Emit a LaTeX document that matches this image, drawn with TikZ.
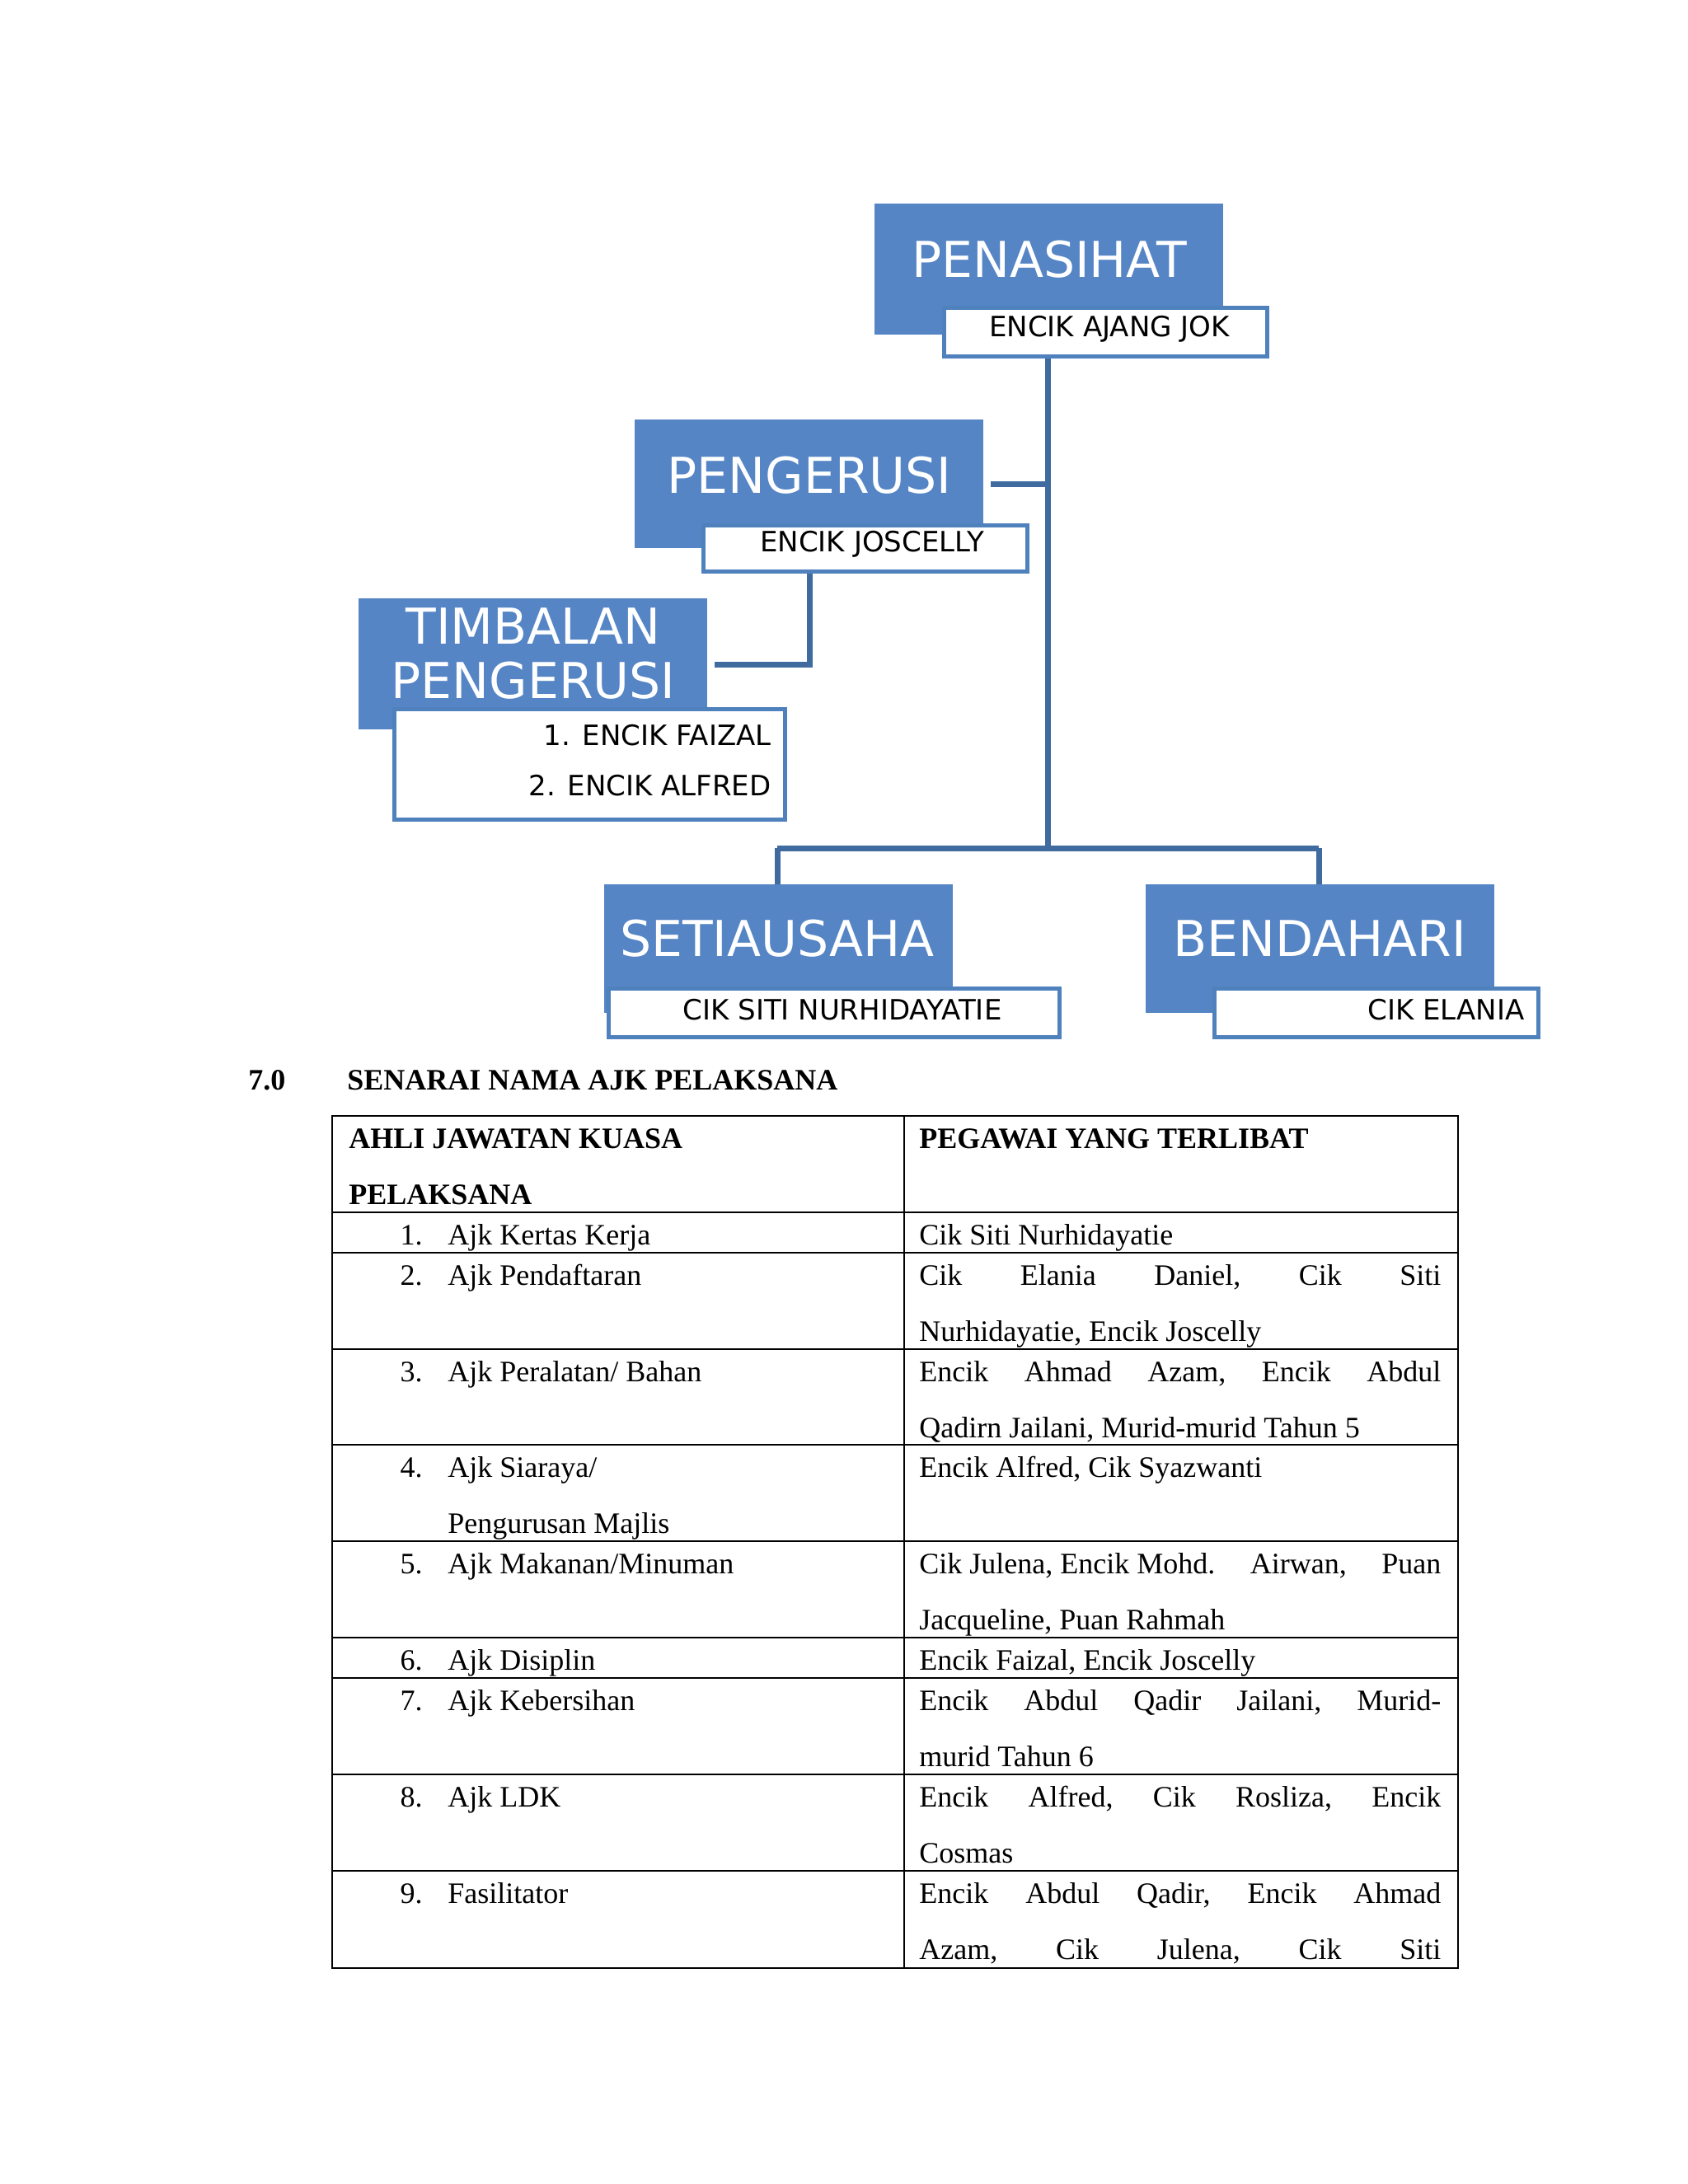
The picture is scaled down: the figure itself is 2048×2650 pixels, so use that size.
\documentclass[tikz,border=0pt]{standalone}
\usepackage{fontspec}
\setmainfont{Liberation Serif}
\newfontfamily\chartfont{DejaVu Sans}
\definecolor{bfill}{HTML}{5585C5}
\definecolor{bline}{HTML}{3F6B9E}
\definecolor{bedge}{HTML}{4F81BD}
\begin{document}
\begin{tikzpicture}[x=0.5pt,y=-0.5pt,
  bluebox/.style={fill=bfill,draw=none,anchor=north west,inner sep=0},
  subbox/.style={fill=white,draw=bedge,line width=2.5pt,anchor=north west,inner sep=0},
  big/.style={font=\chartfont\fontsize{30}{34}\selectfont,text=white,inner sep=0},
  small/.style={font=\chartfont\fontsize{17}{20}\selectfont,text=black,inner sep=0},
  conn/.style={draw=bline,line width=3.5pt},
  tl/.style={anchor=base west,inner sep=0,font=\fontsize{18}{20}\selectfont},
  tn/.style={anchor=base east,inner sep=0,font=\fontsize{18}{20}\selectfont},
  tb/.style={anchor=base west,inner sep=0,font=\bfseries\fontsize{18}{20}\selectfont},
  grid/.style={draw=black,line width=0.6pt}]
\useasboundingbox[fill=white] (0,0) rectangle (2048,2650);
% connectors (drawn first)
\coordinate (top) at (1271,430);
\coordinate (bus) at (1271,1029);
\coordinate (busL) at (943,1029);
\coordinate (busR) at (1600,1029);
\coordinate (pgJ) at (1271,587);
\coordinate (tbJ) at (982,691);
\coordinate (tbK) at (982,806);
\coordinate (tbE) at (867,806);
\coordinate (pgE) at (1202,587);
\coordinate (setT) at (943,1073);
\coordinate (benT) at (1600,1073);
\draw[conn] (top) -- (bus);
\draw[conn] (pgE) -- (pgJ);
\draw[conn] (tbJ) -- (tbK) -- (tbE);
\draw[conn] (busL) -- (busR);
\draw[conn] (busL) -- (setT);
\draw[conn] (busR) -- (benT);
% PENASIHAT
\node[bluebox,minimum width=211.5pt,minimum height=79.5pt] (pen) at (1061,247) {};
\node[subbox,minimum width=196pt,minimum height=29.5pt] (pens) at (1143,371) {};
\node[big] (pent) at (1273,315) {PENASIHAT};
\node[small] (pena) at (1346,399) {ENCIK AJANG JOK};
% PENGERUSI
\node[bluebox,minimum width=211.5pt,minimum height=78pt] (pg) at (770,509) {};
\node[subbox,minimum width=196.5pt,minimum height=28pt] (pgs) at (851,635) {};
\node[big] (pgt) at (982,577) {PENGERUSI};
\node[small] (pga) at (1058,660) {ENCIK JOSCELLY};
% TIMBALAN
\node[bluebox,minimum width=211.5pt,minimum height=79.5pt] (tb) at (435,726) {};
\node[subbox,minimum width=237pt,minimum height=67pt] (tbs) at (476,858) {};
\node[big] (tbt1) at (647,760) {TIMBALAN};
\node[big] (tbt2) at (647,826) {PENGERUSI};
\node[small,anchor=east] (tba) at (936,892) {1. ENCIK FAIZAL};
\node[small,anchor=east] (tbb) at (936,953) {2. ENCIK ALFRED};
% SETIAUSAHA
\node[bluebox,minimum width=211.5pt,minimum height=78pt] (se) at (733,1073) {};
\node[subbox,minimum width=273.5pt,minimum height=29.5pt] (ses) at (736,1197) {};
\node[big] (set) at (943,1139) {SETIAUSAHA};
\node[small] (sea) at (1022,1225) {CIK SITI NURHIDAYATIE};
% BENDAHARI
\node[bluebox,minimum width=211.5pt,minimum height=78pt] (be) at (1390,1073) {};
\node[subbox,minimum width=196.5pt,minimum height=29.5pt] (bes) at (1471,1197) {};
\node[big] (bet) at (1601,1139) {BENDAHARI};
\node[small,anchor=east] (bea) at (1850,1225) {CIK ELANIA};
% heading
\node[tb] (h1) at (301,1322) {7.0};
\node[tb] (h2) at (421,1322) {SENARAI NAMA AJK PELAKSANA};
% table grid
\draw[grid] (403,1354) rectangle (1769,2388);
\draw[grid] (1097,1354) -- (1097,2388);
\foreach \y in {1471,1520,1637,1753,1870,1987,2036,2153,2270}
  \draw[grid] (403,\y) -- (1769,\y);
% header
\node[tb] (a1) at (423,1393) {AHLI JAWATAN KUASA};
\node[tb] (a2) at (423,1461) {PELAKSANA};
\node[tb] (a3) at (1115,1393) {PEGAWAI YANG TERLIBAT};
% rows
\def\W{316.5pt}
\node[tn] at (513,1510) {1.}; \node[tl] at (543,1510) {Ajk Kertas Kerja};
\node[tl] at (1115,1510) {Cik Siti Nurhidayatie};
\node[tn] at (513,1559) {2.}; \node[tl] at (543,1559) {Ajk Pendaftaran};
\node[tl] at (1115,1559) {\hbox to \W{Cik\hfill Elania\hfill Daniel,\hfill Cik\hfill Siti}};
\node[tl] at (1115,1627) {Nurhidayatie, Encik Joscelly};
\node[tn] at (513,1676) {3.}; \node[tl] at (543,1676) {Ajk Peralatan/ Bahan};
\node[tl] at (1115,1676) {\hbox to \W{Encik\hfill Ahmad\hfill Azam,\hfill Encik\hfill Abdul}};
\node[tl] at (1115,1744) {Qadirn Jailani, Murid-murid Tahun 5};
\node[tn] at (513,1792) {4.}; \node[tl] at (543,1792) {Ajk Siaraya/};
\node[tl] at (543,1860) {Pengurusan Majlis};
\node[tl] at (1115,1792) {Encik Alfred, Cik Syazwanti};
\node[tn] at (513,1909) {5.}; \node[tl] at (543,1909) {Ajk Makanan/Minuman};
\node[tl] at (1115,1909) {\hbox to \W{Cik Julena, Encik Mohd.\hfill Airwan,\hfill Puan}};
\node[tl] at (1115,1977) {Jacqueline, Puan Rahmah};
\node[tn] at (513,2026) {6.}; \node[tl] at (543,2026) {Ajk Disiplin};
\node[tl] at (1115,2026) {Encik Faizal, Encik Joscelly};
\node[tn] at (513,2075) {7.}; \node[tl] at (543,2075) {Ajk Kebersihan};
\node[tl] at (1115,2075) {\hbox to \W{Encik\hfill Abdul\hfill Qadir\hfill Jailani,\hfill Murid-}};
\node[tl] at (1115,2143) {murid Tahun 6};
\node[tn] at (513,2192) {8.}; \node[tl] at (543,2192) {Ajk LDK};
\node[tl] at (1115,2192) {\hbox to \W{Encik\hfill Alfred,\hfill Cik\hfill Rosliza,\hfill Encik}};
\node[tl] at (1115,2260) {Cosmas};
\node[tn] at (513,2309) {9.}; \node[tl] at (543,2309) {Fasilitator};
\node[tl] at (1115,2309) {\hbox to \W{Encik\hfill Abdul\hfill Qadir,\hfill Encik\hfill Ahmad}};
\node[tl] at (1115,2377) {\hbox to \W{Azam,\hfill Cik\hfill Julena,\hfill Cik\hfill Siti}};
\end{tikzpicture}
\end{document}
